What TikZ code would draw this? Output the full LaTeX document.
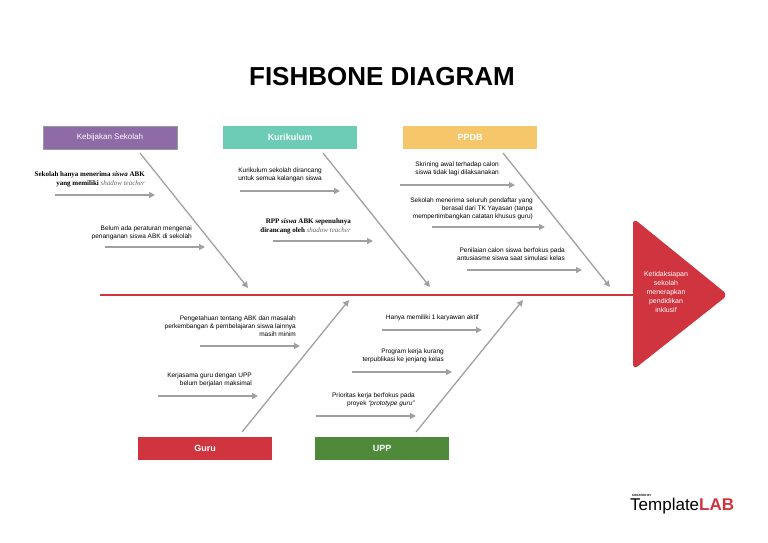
\documentclass[tikz,border=0pt]{standalone}
\usepackage{fontspec}
\setmainfont{Liberation Sans}
\newfontfamily\serf{Liberation Serif}
\usetikzlibrary{arrows.meta}
\definecolor{purp}{HTML}{8E6BA6}
\definecolor{teal1}{HTML}{6CCCB5}
\definecolor{yel}{HTML}{F5C76A}
\definecolor{red1}{HTML}{D0343F}
\definecolor{grn}{HTML}{4E8A3A}
\definecolor{arr}{HTML}{A0A0A0}
\begin{document}
\begin{tikzpicture}[x=1pt,y=-1pt,
  cat/.style={minimum width=134pt,minimum height=23pt,inner sep=0pt,font=\bfseries\fontsize{9}{10}\selectfont,text=white},
  bone/.style={draw=arr,line width=1.3pt,-{Triangle[length=6pt,width=6pt]}},
  sub/.style={draw=arr,line width=1.6pt,-{Triangle[length=6pt,width=6pt]}},
  lbl/.style={font=\fontsize{6.5}{8}\selectfont,align=right,anchor=south east,inner sep=1pt}]
\useasboundingbox (0,0) rectangle (768,543);
\node[font=\bfseries\fontsize{26}{28}\selectfont] (title) at (382,77) {FISHBONE DIAGRAM};
\node[cat,fill=purp,draw=black!40,font=\fontsize{8}{10}\selectfont] (keb) at (110,137.5) {Kebijakan Sekolah};
\node[cat,fill=teal1] (kur) at (290,137.5) {Kurikulum};
\node[cat,fill=yel] (ppdb) at (470,137.5) {PPDB};
\node[cat,fill=red1] (guru) at (205,448) {Guru};
\node[cat,fill=grn] (upp) at (382,448) {UPP};
% spine and head
\coordinate (s0) at (100,295);
\coordinate (s1) at (634,295);
\draw[red1,line width=2pt] (s0) -- (s1);
\fill[red1,rounded corners=6pt] (633,218) -- (728,295) -- (633,370) -- cycle;
\node[text=white,font=\fontsize{7}{9}\selectfont,align=center] (eff) at (666,292) {Ketidaksiapan\\sekolah\\menerapkan\\pendidikan\\inklusif};
% main bones
\coordinate (k0) at (140,153); \coordinate (k1) at (248,288);
\coordinate (r0) at (323,153); \coordinate (r1) at (430,287);
\coordinate (p0) at (503,153); \coordinate (p1) at (610,287);
\coordinate (g0) at (242,432); \coordinate (g1) at (349,300);
\coordinate (u0) at (416,432); \coordinate (u1) at (523,300);
\foreach \a/\b in {k0/k1,r0/r1,p0/p1,g0/g1,u0/u1} \draw[bone] (\a) -- (\b);
% sub arrows
\foreach \n/\xa/\xb/\y in {a1/55/155/195,a2/105/205/247,b1/240/340/191,b2/273/373/241,c1/400/515/185,c2/432/545/227,c3/467/582/270,d1/200/300/346,d2/158/258/396,e1/382/482/330,e2/352/452/372,e3/316/416/416}{
  \coordinate (\n s) at (\xa,\y); \coordinate (\n e) at (\xb,\y);
  \draw[sub] (\n s) -- (\n e);}
\node[lbl,font=\fontsize{7}{8.5}\selectfont\serf\bfseries] (t1) at (146,188) {Sekolah hanya menerima \textit{siswa} ABK\\yang memiliki \textit{\mdseries\color{black!60}shadow teacher}};
\node[lbl] (t2) at (193,241) {Belum ada peraturan mengenai\\penanganan siswa ABK di sekolah};
\node[lbl] (t3) at (323,183) {Kurikulum sekolah dirancang\\untuk semua kalangan siswa};
\node[lbl,font=\fontsize{7}{8.5}\selectfont\serf\bfseries] (t4) at (352,235) {RPP \textit{siswa} ABK sepenuhnya\\dirancang oleh \textit{\mdseries\color{black!60}shadow teacher}};
\node[lbl] (t5) at (500,177) {Skrining awal terhadap calon\\siswa tidak lagi dilaksanakan};
\node[lbl] (t6) at (534,221) {Sekolah menerima seluruh pendaftar yang\\berasal dari TK Yayasan (tanpa\\mempertimbangkan catatan khusus guru)};
\node[lbl] (t7) at (566,262) {Penilaian calon siswa berfokus pada\\antusiasme siswa saat simulasi kelas};
\node[lbl] (t8) at (297,338) {Pengetahuan tentang ABK dan masalah\\perkembangan \& pembelajaran siswa lainnya\\masih minim};
\node[lbl] (t9) at (253,388) {Kerjasama guru dengan UPP\\belum berjalan maksimal};
\node[lbl] (t10) at (480,322) {Hanya memiliki 1 karyawan aktif};
\node[lbl] (t11) at (445,364) {Program kerja kurang\\terpublikasi ke jenjang kelas};
\node[lbl] (t12) at (416,408) {Prioritas kerja berfokus pada\\proyek \textit{``prototype guru''}};
% logo
\node[font=\bfseries\fontsize{3}{3}\selectfont,anchor=south west,inner sep=0pt] (cb) at (632,497) {CREATED BY};
\node[font=\fontsize{17}{17}\selectfont,anchor=north west,inner sep=0pt] (logo) at (630,498) {Template\textcolor{red1}{\textbf{LAB}}};
\end{tikzpicture}
\end{document}
